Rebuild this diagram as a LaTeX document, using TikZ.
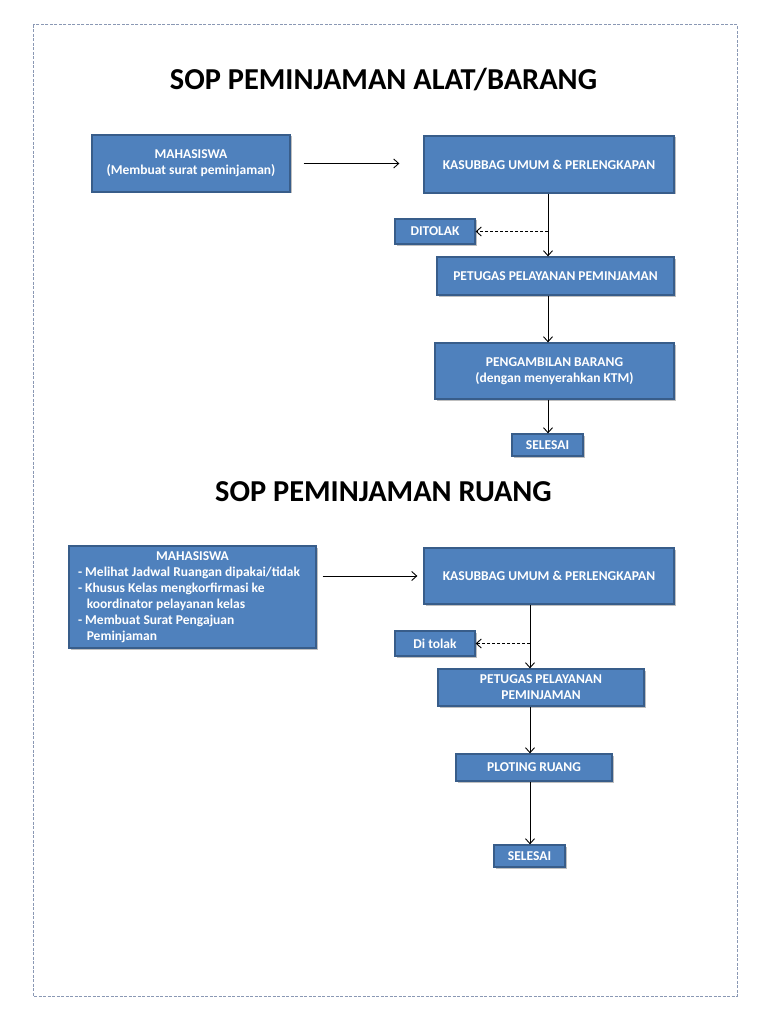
\documentclass[tikz,border=0pt]{standalone}
\usepackage{fontspec}
\setmainfont{Carlito}
\usetikzlibrary{shadows,arrows.meta}
\definecolor{boxfill}{HTML}{4F81BD}
\definecolor{boxline}{HTML}{385D8A}
\definecolor{frameline}{HTML}{8A98B4}
\begin{document}
\begin{tikzpicture}[x=1pt,y=-1pt,
  box/.style={draw=boxline, line width=1.3pt, fill=boxfill, text=white,
    font=\fontsize{13.5}{16}\selectfont\bfseries, align=center, inner sep=0pt,
    drop shadow={opacity=0.25, shadow xshift=1.5pt, shadow yshift=-1.5pt, fill=black}},
  title/.style={font=\fontsize{30.4}{36}\selectfont\bfseries},
  conn/.style={-{Straight Barb[length=5pt,width=9pt]}, line width=0.9pt},
  rej/.style={-{Straight Barb[length=5pt,width=9pt]}, line width=0.9pt, dash pattern=on 3pt off 2pt}]
\useasboundingbox (0,0) rectangle (768,1024);
\draw[frameline, line width=1pt, dash pattern=on 3pt off 1.5pt] (33,25) rectangle (737,996);

% section 1
\node[title] (T1) at (383.5,80) {SOP PEMINJAMAN ALAT/BARANG};
\node[box, minimum width=198, minimum height=57] (M1) at (191,163.5) {MAHASISWA\\(Membuat surat peminjaman)};
\node[box, minimum width=250, minimum height=57] (K1) at (549,164.5) {KASUBBAG UMUM \& PERLENGKAPAN};
\node[box, minimum width=80, minimum height=25] (D1) at (435,231.5) {DITOLAK};
\node[box, minimum width=237, minimum height=38] (P1) at (555.5,276) {PETUGAS PELAYANAN PEMINJAMAN};
\node[box, minimum width=239, minimum height=56] (PB) at (554.5,371) {PENGAMBILAN BARANG\\(dengan menyerahkan KTM)};
\node[box, minimum width=71, minimum height=22] (S1) at (547.5,445) {SELESAI};
\coordinate (v1) at (548,0);
\draw[conn, shorten <=13pt, shorten >=24pt] (M1.east) -- (M1.east -| K1.west);
\draw[conn] (K1.south -| v1) -- (P1.north -| v1);
\draw[rej] (D1.east -| v1) -- (D1.east);
\draw[conn] (P1.south -| v1) -- (PB.north -| v1);
\draw[conn] (PB.south -| v1) -- (S1.north -| v1);

% section 2
\node[title] (T2) at (383.5,492) {SOP PEMINJAMAN RUANG};
\node[box, minimum width=247, minimum height=102, align=left] (M2) at (192.5,597)
  {\makebox[229pt][c]{MAHASISWA}\\
   - Melihat Jadwal Ruangan dipakai/tidak\\
   - Khusus Kelas mengkorfirmasi ke\\
   \hspace*{0.65em}koordinator pelayanan kelas\\
   - Membuat Surat Pengajuan\\
   \hspace*{0.65em}Peminjaman};
\node[box, minimum width=250, minimum height=56] (K2) at (549,576) {KASUBBAG UMUM \& PERLENGKAPAN};
\node[box, minimum width=80, minimum height=25] (D2) at (435,643.5) {Di tolak};
\node[box, minimum width=206, minimum height=37] (P2) at (541,687.5) {PETUGAS PELAYANAN\\PEMINJAMAN};
\node[box, minimum width=156, minimum height=27] (PL) at (534,767.5) {PLOTING RUANG};
\node[box, minimum width=71, minimum height=22] (S2) at (529.5,856) {SELESAI};
\coordinate (v2) at (530,0);
\draw[conn, shorten <=6pt, shorten >=6pt] (M2.east |- K2.west) -- (K2.west);
\draw[conn] (K2.south -| v2) -- (P2.north -| v2);
\draw[rej] (D2.east -| v2) -- (D2.east);
\draw[conn] (P2.south -| v2) -- (PL.north -| v2);
\draw[conn] (PL.south -| v2) -- (S2.north -| v2);
\end{tikzpicture}
\end{document}
